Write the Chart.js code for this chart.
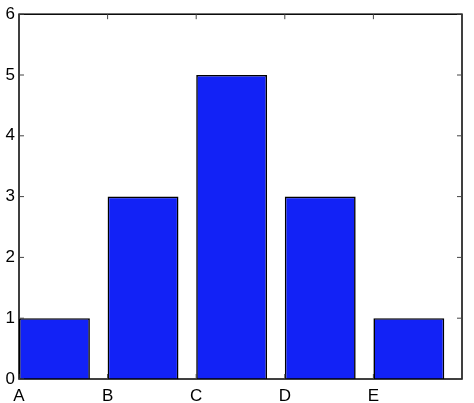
<!DOCTYPE html>
<html>
<head>
<meta charset="utf-8">
<script src="https://cdn.jsdelivr.net/npm/chart.js@4"></script>
<style>
  html, body { margin: 0; padding: 0; background: #fff; }
  #wrap { width: 474px; height: 403px; }
</style>
</head>
<body>
<div id="wrap"><canvas id="chart"></canvas></div>
<script>
const categories = ['A', 'B', 'C', 'D', 'E'];
const counts = [1, 3, 5, 3, 1];
const yTicks = [0, 1, 2, 3, 4, 5, 6];

// MATLAB-style box with inward tick marks
const boxTicks = {
  id: 'boxTicks',
  afterDraw(chart) {
    const { ctx, chartArea: a, scales: { x, y } } = chart;
    ctx.save();
    ctx.strokeStyle = '#000';
    ctx.lineWidth = 1.5;
    ctx.strokeRect(a.left, a.top, a.right - a.left, a.bottom - a.top);
    ctx.lineWidth = 1;
    ctx.strokeStyle = '#444';
    ctx.beginPath();
    yTicks.forEach((v) => {
      const py = y.getPixelForValue(v);
      ctx.moveTo(a.left, py); ctx.lineTo(a.left + 5, py);
      ctx.moveTo(a.right, py); ctx.lineTo(a.right - 5, py);
    });
    categories.forEach((c, i) => {
      const px = x.getPixelForValue(i);
      ctx.moveTo(px, a.top); ctx.lineTo(px, a.top + 5);
      ctx.moveTo(px, a.bottom); ctx.lineTo(px, a.bottom - 5);
    });
    ctx.stroke();
    ctx.restore();
  }
};

new Chart(document.getElementById('chart'), {
  type: 'bar',
  data: {
    datasets: [{
      data: counts.map((v, i) => ({ x: i + 0.4, y: v })),
      backgroundColor: '#1222f6',
      borderColor: '#000',
      borderWidth: 1.6,
      categoryPercentage: 0.8,
      barPercentage: 1
    }]
  },
  plugins: [boxTicks],
  options: {
    responsive: true,
    maintainAspectRatio: false,
    animation: false,
    layout: { autoPadding: false, padding: { top: 14, right: 12, left: 0, bottom: 0 } },
    plugins: { legend: { display: false }, tooltip: { enabled: false } },
    scales: {
      x: {
        type: 'linear',
        offset: false,
        min: 0,
        max: 5,
        afterBuildTicks: (scale) => { scale.ticks = categories.map((c, i) => ({ value: i })); },
        afterFit: (scale) => { scale.height = 24; },
        ticks: {
          callback: (value) => categories[value] ?? '',
          font: { family: 'Liberation Sans', size: 17 },
          color: '#000',
          padding: 7,
          maxRotation: 0,
          autoSkip: false
        },
        grid: { display: false, drawTicks: false },
        border: { display: false }
      },
      y: {
        min: 0,
        max: 6,
        afterBuildTicks: (scale) => { scale.ticks = yTicks.map((v) => ({ value: v })); },
        afterFit: (scale) => { scale.width = 19; },
        ticks: {
          font: { family: 'Liberation Sans', size: 17 },
          color: '#000',
          padding: 4
        },
        grid: { display: false, drawTicks: false },
        border: { display: false }
      }
    }
  }
});
</script>
</body>
</html>
